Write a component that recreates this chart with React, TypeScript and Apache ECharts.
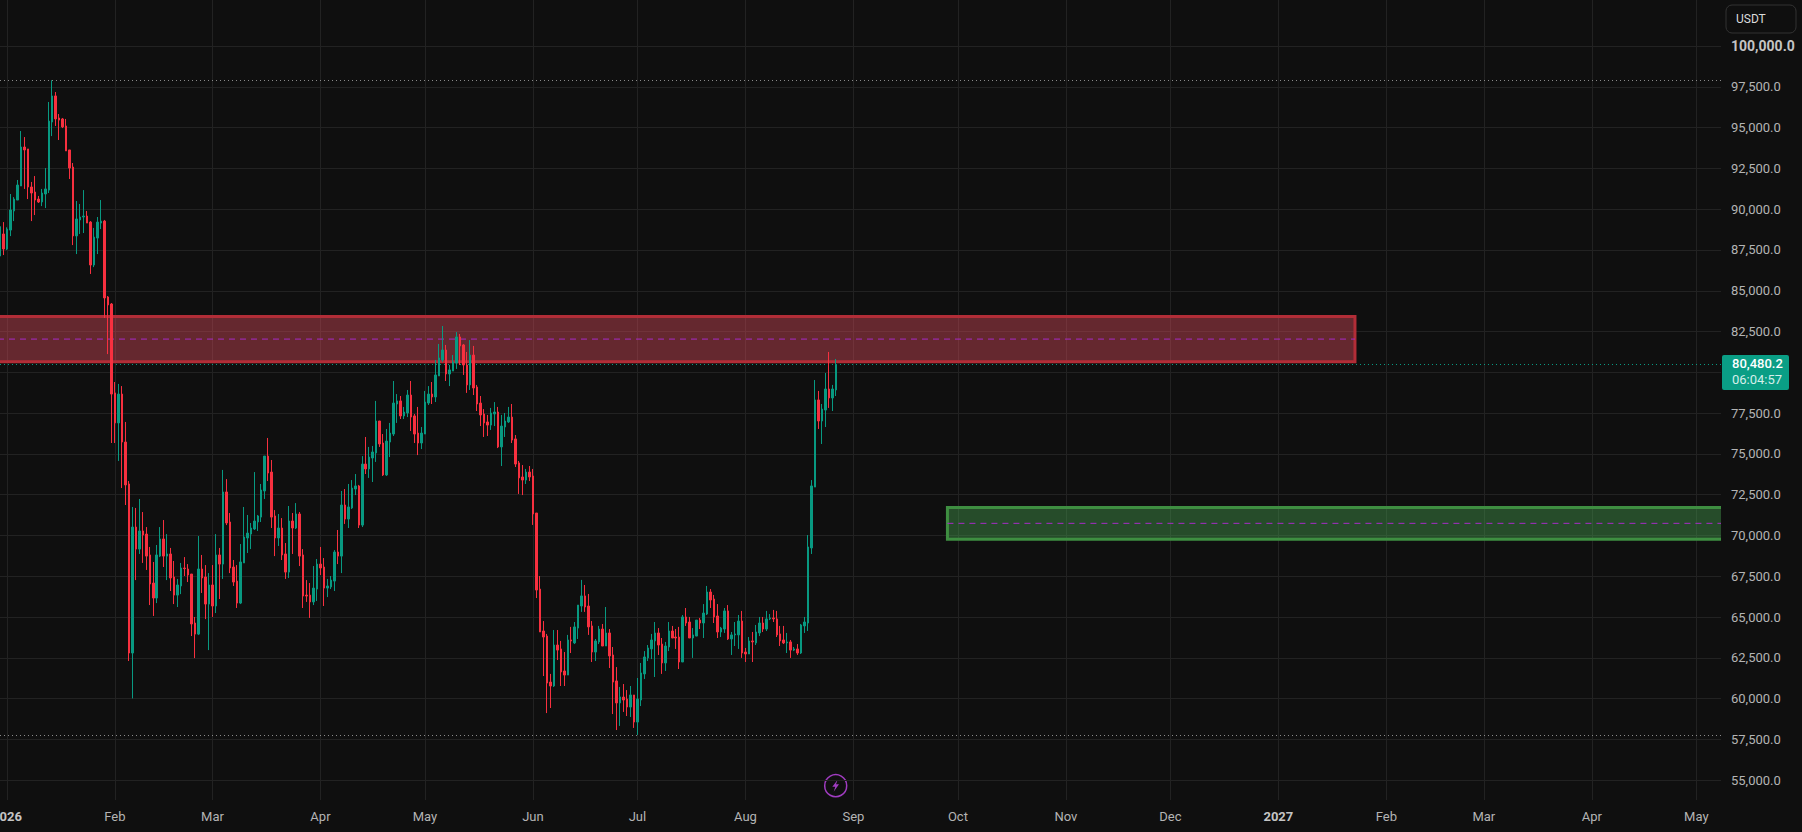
import React, { useEffect, useRef } from "react";
import * as echarts from "echarts";

const DAY = 86400000;
const firstDay = Date.UTC(2025, 11, 30);
const axisStart = Date.UTC(2025, 11, 30);
const axisEnd = Date.UTC(2027, 4, 8, 2);
const priceMin = 53793;
const priceMax = 102819;

const opens = [
  87130,88480,87560,88720,89890,90560,91420,93810,93690,91360,91050,90620,90440,90930,91170,95340,96940,95590,95530,95100,93630,92580,88360,89340,89520,89580,89210,86580,88230,89150,89270,84620,84190,
  78740,76900,78670,75730,73160,62800,70520,69170,70280,70090,68810,67090,66170,68740,69790,68740,68870,67460,66350,66910,68010,67950,67640,64640,63960,67950,67460,65800,66970,65680,68810,68250,72670,70830,68070,67210,65860,68320,69850,70090,70400,70830,71130,72730,74870,73890,71200,69850,70460,68870,67760,70890,70460,71320,
  68810,66350,66350,65930,66720,68250,68070,66780,66850,67210,68990,68740,71870,71010,71690,72850,73040,70640,74380,74080,74750,75060,77020,75670,73710,75730,76220,78060,78250,77330,77510,78610,77330,76280,75670,76220,78120,78670,78490,79780,80760,81370,79900,80080,80570,82170,81680,80450,79230,81060,79100,78120,77450,76960,76770,77450,77570,75430,76650,76960,77260,75920,74450,73590,73400,73890,73650,71380,66720,
  64150,63840,61020,60780,63290,63050,61700,61450,63600,63420,64330,65680,66300,65680,64460,62860,63480,64270,63230,64030,62680,61090,59740,60100,59980,59490,60230,58570,59920,61520,62500,63050,63540,64030,63350,62190,63170,64150,63780,63780,62250,65010,64700,63720,63840,64820,64640,65190,66540,66110,65070,64090,64270,65380,63660,63910,63910,64760,62860,62740,63540,63420,64030,64640,64270,64890,64950,64890,63970,63600,63420,63480,62980,63050,62800,64460,64640,
  69240,72970,78310,77020,77690,78980,78430,78920,
];
const closes = [
  88930,87560,88780,89950,90620,91480,93810,93630,91360,90990,90560,90440,90990,91240,95400,96940,95530,95460,95040,93570,92520,88360,89400,89520,89580,89150,86580,88290,89210,89270,84560,84130,78670,
  76900,78670,75730,73100,62800,70520,69170,70280,70030,68740,67030,66170,68810,69790,68740,68870,67400,66350,66970,68010,67970,67580,64580,63960,67950,67400,65800,66970,65680,68810,68250,72670,70770,68010,67150,65860,68380,69910,70150,70460,70890,71200,72790,74870,73830,71130,69850,70460,68810,67760,70890,70460,71320,68740,
  66290,66290,65930,66780,68250,68010,66780,66910,67270,68990,68740,71870,71010,71750,72910,73040,70640,74380,74080,74810,75120,77020,75610,73710,75790,76280,78120,78250,77330,77570,78610,77260,76220,75670,76280,78180,78670,78490,79840,80880,81370,79900,80150,80640,82170,81620,80450,79230,81060,79040,78060,77390,76900,76770,77510,77570,75430,76710,77020,77260,75850,74380,73530,73400,73890,73590,71320,66660,64090,
  63780,60960,60780,63290,62980,61640,61450,63600,63540,64400,65740,66300,65620,64400,62860,63540,64270,63230,64030,62620,61020,59740,60110,59920,59490,60230,58570,59980,61580,62560,63110,63600,64030,63290,62190,63230,64150,63720,63720,62250,65010,64640,63720,63910,64820,64640,65250,66540,66050,65010,64090,64330,65380,63660,63910,63970,64760,62800,62740,63540,63480,64090,64640,64270,64890,64950,64890,63910,63540,63420,63480,62980,63050,62800,64520,64700,69300,
  73040,78310,77020,77750,78980,78430,78980,80480,
];
const lows = [
  86820,87190,87500,88350,89270,90560,91420,91240,90620,89270,89640,90380,90190,90070,90990,94480,95100,94240,94970,93570,91850,87800,87250,88480,88540,89150,86030,86450,87250,88780,83330,81120,75670,
  75670,74570,72910,71870,62310,60020,67270,68870,68320,67890,65740,65070,65860,68680,68070,67270,66600,65800,65620,66410,67520,67150,63840,62490,63900,66480,64880,62980,65010,65250,66110,67340,70640,67700,66910,65560,65800,68320,68930,69170,70340,70280,70830,72240,73340,70460,68740,69360,68500,67340,67400,68870,70400,68130,
  65560,65930,64950,65740,65990,67580,65680,66230,66720,66600,68250,67700,70710,70460,71630,72480,70460,70520,73770,73530,73280,74510,75430,73650,73650,74810,76100,76900,77140,77140,77260,76410,75670,74930,75300,76220,78000,78060,78180,79780,80640,79470,79160,80080,80210,80450,79840,78740,78920,78610,77630,76710,76040,76100,76470,76710,75360,74260,76040,76900,75670,74200,72550,72480,73160,73340,70650,66170,64090,
  61390,59120,59430,60720,62370,60780,60780,61450,62800,63350,63660,65320,65320,63910,62250,62310,63350,63230,63230,61880,59060,58080,58330,59190,58940,58880,58210,57780,59550,61210,62310,62430,61330,62680,61520,61700,62920,63720,63050,61820,62250,64460,63720,62500,63840,64270,63720,65130,65560,64640,63720,63780,64030,63600,62680,63230,63050,62500,62250,62740,62250,63290,63840,64090,64150,64820,64700,63780,63230,63350,62800,62500,62920,62680,62740,64030,64150,
  68870,72970,76530,75610,76650,77820,77630,78550,
];
const highs = [
  89340,89210,88890,90930,90740,91790,94790,94420,93690,91670,92030,90810,91240,92520,96570,97900,97180,95830,95590,95530,93630,92830,90500,90320,91170,89890,89270,88850,89520,90560,89340,84680,84250,
  79410,79290,79160,76960,73340,71750,71690,72240,71440,70520,69300,68380,69420,70520,70950,70090,69240,68440,67340,68320,68680,68250,67640,65010,69970,68810,68190,67700,68190,70090,69240,74020,73460,71380,68500,68190,69480,71750,71260,70770,73890,71260,73160,74870,75980,74630,71560,71320,71070,69540,71810,71380,71990,71440,
  69170,67270,67090,68130,68560,69300,68620,67340,67520,69110,70340,72730,72850,73160,73400,73770,73100,74870,76040,75430,75490,78250,77020,76220,76530,76900,79470,78670,78550,77880,78920,79470,77450,77880,76650,78860,79160,79410,80760,81740,82840,81680,80450,81060,82470,82350,81740,81250,81980,81620,79230,78550,77750,77390,77820,78180,77880,77390,77510,77880,78060,76160,74570,74320,74080,74260,74080,71380,67520,
  64760,63970,61520,64210,64210,63540,62860,63910,64400,64700,65740,67280,66970,66420,64760,63660,64460,64580,65620,64270,63170,61940,60720,60900,60530,60780,60230,61270,62190,62920,63290,63970,64700,64330,63720,63480,64700,64460,64270,64400,65130,65560,65010,64330,64820,64950,65800,66910,66720,66360,65800,64400,65560,65740,64090,64700,65130,65380,63110,63780,64090,64520,65010,65010,65380,65190,65440,65380,64460,64460,64030,63600,63170,63350,64580,65010,70030,
  73400,79530,78860,78060,79960,81250,79230,80820,
];

const priceTicks = [55000,57500,60000,62500,65000,67500,70000,72500,75000,77500,80000,82500,85000,87500,90000,92500,95000,97500,100000];
const priceLabels = priceTicks.filter((v) => v !== 80000);
const monthTicks = [
  Date.UTC(2026,0,1),Date.UTC(2026,1,1),Date.UTC(2026,2,1),Date.UTC(2026,3,1),Date.UTC(2026,4,1),Date.UTC(2026,5,1),Date.UTC(2026,6,1),Date.UTC(2026,7,1),Date.UTC(2026,8,1),
  Date.UTC(2026,9,1),Date.UTC(2026,10,1),Date.UTC(2026,11,1),Date.UTC(2027,0,1),Date.UTC(2027,1,1),Date.UTC(2027,2,1),Date.UTC(2027,3,1),Date.UTC(2027,4,1),
];
const monthNames = ["Jan","Feb","Mar","Apr","May","Jun","Jul","Aug","Sep","Oct","Nov","Dec"];

const highLevel = 97898;
const lowLevel = 57760;
const lastPrice = 80480.2;
const countdown = "06:04:57";

// zone: start, end, top price, bottom price
const resistanceZone = [Date.UTC(2025,11,1), Date.UTC(2027,0,23), 83423, 80654];
const supportZone = [Date.UTC(2026,8,28), Date.UTC(2027,7,1), 71719, 69776];

const UP = "#089981";
const DOWN = "#F7303F";
const BG = "#0F0F0F";
const GRID = "#222222";
const LABEL = "#B4B4B4";
const FONT = "Roboto";

const fmtPrice = (v: number) =>
  v.toLocaleString("en-US", { minimumFractionDigits: 1, maximumFractionDigits: 1 });

const zoneStyles = [
  { fill: "rgba(230,77,95,0.4)", stroke: "#B22D37" },
  { fill: "rgba(72,167,82,0.4)", stroke: "#3E8E41" },
];

export default function App() {
  const ref = useRef<HTMLDivElement>(null);
  useEffect(() => {
    document.body.style.margin = "0";
    document.body.style.background = BG;
    document.body.style.overflow = "hidden";
    const chart = echarts.init(ref.current!, null, { renderer: "svg" });
    const candleData = opens.map((o, i) => [firstDay + i * DAY, o, closes[i], lows[i], highs[i]]);
    chart.setOption({
      animation: false,
      backgroundColor: BG,
      grid: { left: 0, top: 0, width: 1721, height: 800, containLabel: false, outerBoundsMode: "none" },
      xAxis: {
        type: "value",
        min: axisStart,
        max: axisEnd,
        axisLine: { show: false },
        axisTick: { show: false, customValues: monthTicks },
        splitLine: { show: true, lineStyle: { color: GRID, width: 1 } },
        axisLabel: {
          customValues: monthTicks,
          margin: 10,
          color: LABEL,
          fontFamily: FONT,
          fontSize: 13,
          hideOverlap: false,
          formatter: (v: number) => {
            const d = new Date(v);
            return d.getUTCMonth() === 0 ? `{b|${d.getUTCFullYear()}}` : monthNames[d.getUTCMonth()];
          },
          rich: { b: { fontFamily: FONT, fontSize: 13, fontWeight: "bold", color: "#C4C4C4" } },
        },
      },
      yAxis: {
        type: "value",
        position: "right",
        min: priceMin,
        max: priceMax,
        axisLine: { show: false },
        axisTick: { show: false, customValues: priceTicks },
        splitLine: { show: true, lineStyle: { color: GRID, width: 1 } },
        axisLabel: {
          customValues: priceLabels,
          align: "left",
          margin: 10,
          color: LABEL,
          fontFamily: FONT,
          fontSize: 13,
          formatter: (v: number) => (v >= 100000 ? `{b|${fmtPrice(v)}}` : fmtPrice(v)),
          rich: { b: { fontFamily: FONT, fontSize: 14, fontWeight: "bold", color: "#C4C4C4" } },
        },
      },
      series: [
        {
          type: "custom",
          z: 1,
          clip: true,
          silent: true,
          data: [resistanceZone, supportZone],
          encode: { x: [0, 1], y: [2, 3] },
          renderItem: (params: any, api: any) => {
            const p0 = api.coord([api.value(0), api.value(2)]);
            const p1 = api.coord([api.value(1), api.value(3)]);
            const s = zoneStyles[params.dataIndex];
            const midY = (p0[1] + p1[1]) / 2;
            return {
              type: "group",
              children: [
                {
                  type: "rect",
                  shape: { x: p0[0], y: p0[1], width: p1[0] - p0[0], height: p1[1] - p0[1] },
                  style: { fill: s.fill, stroke: s.stroke, lineWidth: 3 },
                },
                {
                  type: "line",
                  shape: { x1: p0[0], y1: midY, x2: p1[0], y2: midY },
                  style: { stroke: "#A82BC8", lineWidth: 1, lineDash: [6, 5] },
                },
              ],
            };
          },
        },
        {
          type: "candlestick",
          z: 5,
          barWidth: 2,
          data: candleData,
          itemStyle: { color: UP, color0: DOWN, borderColor: UP, borderColor0: DOWN, borderWidth: 1 },
          markLine: {
            silent: true,
            symbol: "none",
            label: { show: false },
            data: [
              { yAxis: highLevel, lineStyle: { color: "#8A8A8A", type: [1, 3], width: 1 } },
              { yAxis: lowLevel, lineStyle: { color: "#8A8A8A", type: [1, 3], width: 1 } },
              { yAxis: lastPrice, lineStyle: { color: UP, type: [1, 3], width: 1 } },
            ],
          },
        },
      ],
      graphic: [
        { type: "rect", shape: { x: 1726, y: 5, width: 70, height: 28, r: 6 }, style: { fill: BG, stroke: "#333333", lineWidth: 1 } },
        { type: "text", x: 1736, y: 19, style: { text: "USDT", fill: "#DBDBDB", font: `12px ${FONT}`, verticalAlign: "middle" } },
        { type: "rect", shape: { x: 1722, y: 355, width: 67, height: 35, r: 2 }, style: { fill: "#0A9E85" } },
        { type: "text", x: 1732, y: 363, style: { text: fmtPrice(lastPrice), fill: "#FFFFFF", font: `500 13px ${FONT}`, verticalAlign: "middle" } },
        { type: "text", x: 1732, y: 379, style: { text: countdown, fill: "#D5EFEA", font: `13px ${FONT}`, verticalAlign: "middle" } },
        { type: "circle", shape: { cx: 835.7, cy: 785.7, r: 11 }, style: { fill: BG, stroke: "#A03CC0", lineWidth: 1.5 } },
        {
          type: "polygon",
          shape: { points: [[837.7, 779.7], [832.3, 786.7], [835.3, 786.7], [833.7, 791.7], [839, 784.3], [836, 784.3]] },
          style: { fill: "#A03CC0" },
        },
      ],
    });
    return () => chart.dispose();
  }, []);
  return <div ref={ref} style={{ width: 1802, height: 832 }} />;
}
